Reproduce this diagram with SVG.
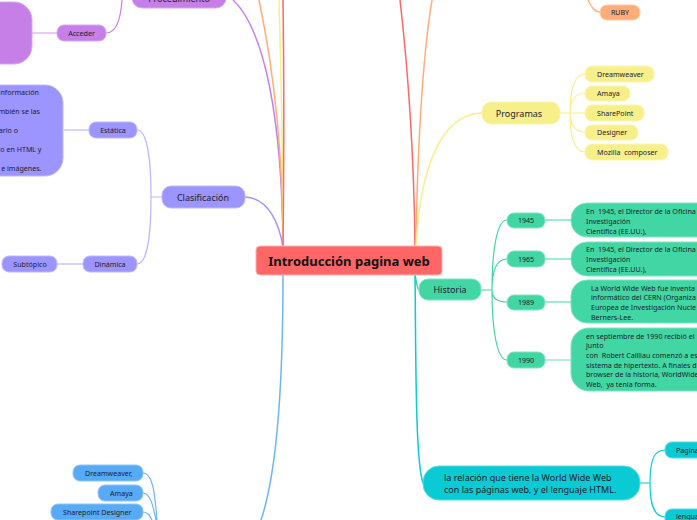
<svg xmlns="http://www.w3.org/2000/svg" width="697" height="520" viewBox="0 0 697 520">
<style>
text{font-family:"Noto Sans","DejaVu Sans",sans-serif;fill:#1c1c2a;white-space:pre}
.s{font-size:7.1px}.l{font-size:9px}
.c{text-anchor:middle}.e{text-anchor:end}
path{fill:none;stroke-width:1.2}
.r{stroke-width:1.5}
.pu{fill:#c77fe8;stroke:#d9a8f0}.vi{fill:#9c94ff;stroke:#bdb8ff}.bl{fill:#58aaf5;stroke:#8cc5f8}
.ye{fill:#f7f08a;stroke:#faf5b0}.gr{fill:#42d6a4;stroke:#80e3c2}.cy{fill:#0acbd3;stroke:#55dde2}.or{fill:#ffad78;stroke:#ffcaa5}
rect{stroke-width:1}
</style>
<g id="connectors">
<path class="r" d="M283 246C282 120 265 30 233 0" stroke="#c77fe8"/>
<path class="r" d="M283 246C283 170 278 90 259 0" stroke="#ffad78"/>
<path class="r" d="M283 246C283 170 281 70 279 0" stroke="#f7f08a"/>
<path class="r" d="M283 246C277 215 265 198 245 197" stroke="#9c94ff"/>
<path class="r" d="M283 246C284 160 284 70 283 0" stroke="#ff6666"/>
<path class="r" d="M283 275C283 370 278 470 261 520" stroke="#6db5f7"/>
<path class="r" d="M415 246C414 160 408 70 400 0" stroke="#ff6666"/>
<path class="r" d="M416 246C417 160 422 60 432 0" stroke="#ffad78"/>
<path class="r" d="M416 246C420 170 440 114 482 113" stroke="#f7f08a"/>
<path class="r" d="M415 275C416 278 417 290 419 290" stroke="#42d6a4"/>
<path class="r" d="M415 275C416 350 415 460 423 483" stroke="#0acbd3"/>
<path d="M106 33C118 33 121 15 122 0" stroke="#c77fe8"/>
<path d="M32 33H57" stroke="#d9a8f0"/>
<path d="M64 130H89" stroke="#bdb8ff" stroke-width="1.6"/>
<path d="M137 130C148 130 151 165 151 197H162M137 264C148 264 151 230 151 197" stroke="#bdb8ff"/>
<path d="M57 264H83" stroke="#bdb8ff"/>
<path d="M143 473C153 473 155 495 157 520M143 493C150 493 153 505 156 520M143 512C148 512 150 516 152 520" stroke="#6db5f7"/>
<path d="M560 113H585M585 74C572 74 570 95 570 113C570 131 572 152 585 152M585 93C574 93 570 103 570 113C570 123 574 132 585 132" stroke="#f7f08a"/>
<path d="M588 0C591 6 594 12 600 12" stroke="#ffad78"/>
<path d="M481 290H492M507 220C497 220 492 250 492 290M507 259C497 259 492 270 492 290M507 302C497 302 492 298 492 290M507 360C497 360 492 330 492 290" stroke="#42d6a4"/>
<path d="M545 220H571M545 259H571M545 302H571" stroke="#42d6a4"/>
<path d="M545 360H571" stroke="#80e3c2" stroke-width="2"/>
<path d="M640 483H650M665 450C654 450 650 460 650 483C650 505 654 517 665 517" stroke="#0acbd3"/>
</g>
<g id="n-proc"><rect class="pu" x="132" y="-20" width="94" height="28" rx="10"/><text class="l c" x="179" y="2">Procedimiento</text></g>
<g id="n-acceder"><rect class="pu" x="57" y="25" width="49" height="16" rx="7"/><text class="s c" x="81.500" y="36">Acceder</text></g>
<g id="n-acc-det"><rect class="pu" x="-20" y="2" width="52" height="62" rx="18"/></g>
<g id="n-est-det"><rect class="vi" x="-20" y="85" width="83" height="91" rx="18"/>
<text class="s e" x="39" y="95">información</text><text class="s e" x="40" y="114">mbién se las</text><text class="s e" x="18" y="133">ario o</text><text class="s e" x="41.500" y="152">o en HTML y</text><text class="s e" x="41.500" y="171">e imágenes.</text></g>
<g id="n-estatica"><rect class="vi" x="89" y="122" width="48" height="16" rx="7"/><text class="s c" x="113" y="133">Estática</text></g>
<g id="n-clasif"><rect class="vi" x="162" y="186" width="83" height="22" rx="9"/><text class="l c" x="203" y="201">Clasificación</text></g>
<g id="n-dinamica"><rect class="vi" x="83" y="256" width="54" height="16" rx="7"/><text class="s c" x="110" y="267">Dinámica</text></g>
<g id="n-subtopico"><rect class="vi" x="2" y="256" width="55" height="16" rx="7"/><text class="s c" x="30" y="267">Subtópico</text></g>
<g id="n-root"><rect x="256" y="246" width="186" height="29" rx="4" fill="#ff6666" stroke="#ffb3b3"/><text x="349" y="266" class="c" style="font-size:13px;font-weight:700;fill:#111">Introducción pagina web</text></g>
<g id="n-dw"><rect class="bl" x="73" y="465" width="70" height="16" rx="7"/><text class="s" x="85" y="476">Dreamweaver,</text></g>
<g id="n-am"><rect class="bl" x="98" y="485" width="45" height="16" rx="7"/><text class="s" x="110" y="496">Amaya</text></g>
<g id="n-sp"><rect class="bl" x="51" y="504" width="92" height="16" rx="7"/><text class="s" x="63" y="515">Sharepoint Designer</text></g>
<g id="n-ruby"><rect class="or" x="600" y="5" width="40" height="15" rx="7"/><text class="s c" x="620" y="15">RUBY</text></g>
<g id="n-prog"><rect class="ye" x="482" y="102" width="78" height="22" rx="9"/><text class="l c" x="519" y="117">Programas</text></g>
<g id="n-y1"><rect class="ye" x="585" y="66" width="69" height="16" rx="7"/><text class="s" x="597" y="77">Dreamweaver</text></g>
<g id="n-y2"><rect class="ye" x="585" y="86" width="45" height="15" rx="7"/><text class="s" x="597" y="96">Amaya</text></g>
<g id="n-y3"><rect class="ye" x="585" y="105" width="59" height="16" rx="7"/><text class="s" x="597" y="116">SharePoint</text></g>
<g id="n-y4"><rect class="ye" x="585" y="125" width="53" height="15" rx="7"/><text class="s" x="597" y="135">Designer</text></g>
<g id="n-y5"><rect class="ye" x="585" y="144" width="83" height="16" rx="7"/><text class="s" x="597" y="155">Mozilla  composer</text></g>
<g id="n-hist"><rect class="gr" x="419" y="279" width="62" height="21" rx="9"/><text class="l c" x="450" y="293">Historia</text></g>
<g id="n-1945"><rect class="gr" x="507" y="213" width="38" height="15" rx="7"/><text class="s c" x="526" y="223">1945</text></g>
<g id="n-1965"><rect class="gr" x="507" y="251" width="38" height="16" rx="7"/><text class="s c" x="526" y="262">1965</text></g>
<g id="n-1989"><rect class="gr" x="507" y="295" width="38" height="15" rx="7"/><text class="s c" x="526" y="305">1989</text></g>
<g id="n-1990"><rect class="gr" x="507" y="352" width="38" height="16" rx="7"/><text class="s c" x="526" y="363">1990</text></g>
<g id="n-d1"><rect class="gr" x="571" y="203" width="146" height="34" rx="16"/><text class="s" x="586" y="214">En  1945, el Director de la Oficina</text><text class="s" x="586" y="224">Investigación</text><text class="s" x="586" y="234">Científica (EE.UU.),</text></g>
<g id="n-d2"><rect class="gr" x="571" y="242" width="146" height="34" rx="16"/><text class="s" x="586" y="252">En  1945, el Director de la Oficina</text><text class="s" x="586" y="262">Investigación</text><text class="s" x="586" y="272">Científica (EE.UU.),</text></g>
<g id="n-d3"><rect class="gr" x="571" y="280" width="146" height="43" rx="16"/><text class="s" x="591" y="291">La World Wide Web fue inventa</text><text class="s" x="591" y="300">informático del CERN (Organiza</text><text class="s" x="591" y="310">Europea de Investigación Nucle</text><text class="s" x="591" y="320">Berners-Lee.</text></g>
<g id="n-d4"><rect class="gr" x="571" y="328" width="146" height="63" rx="18"/><text class="s" x="586" y="339">en septiembre de 1990 recibió el</text><text class="s" x="586" y="348">junto</text><text class="s" x="586" y="358">con  Robert Cailliau comenzó a es</text><text class="s" x="586" y="368">sistema de hipertexto. A finales d</text><text class="s" x="586" y="377">browser de la historia, WorldWide</text><text class="s" x="586" y="387">Web,  ya tenía forma.</text></g>
<g id="n-rel"><rect class="cy" x="423" y="466" width="217" height="34" rx="16"/><text class="l" x="444" y="481">la relación que tiene la World Wide Web</text><text class="l" x="444" y="493">con las páginas web, y el lenguaje HTML.</text></g>
<g id="n-pag"><rect class="cy" x="665" y="442" width="50" height="16" rx="7"/><text class="s" x="676" y="453">Pagina</text></g>
<g id="n-len"><rect class="cy" x="665" y="509" width="50" height="20" rx="7"/><text class="s" x="676" y="519">lengua</text></g>
</svg>
